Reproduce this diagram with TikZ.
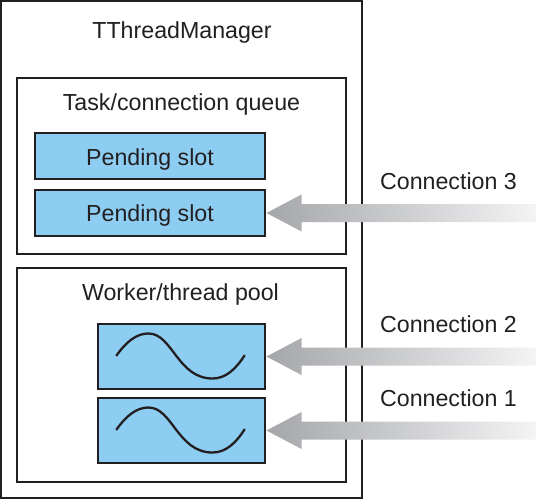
\documentclass[tikz,border=0pt]{standalone}
\usepackage{fontspec}
\setmainfont{Liberation Sans}
\usetikzlibrary{calc}
\definecolor{ink}{HTML}{231F20}
\definecolor{slotblue}{HTML}{8ECDF2}
\definecolor{arrowgray}{HTML}{A4A6A9}
\definecolor{arrowend}{HTML}{F4F4F5}
\tikzset{
  box/.style={draw=ink,line width=1.3pt,fill=white,inner sep=0pt,outer sep=0pt,anchor=north west},
  bluebox/.style={box,fill=slotblue},
  lbl/.style={text=ink,font=\fontsize{23.2}{28}\selectfont,inner sep=0pt,anchor=base},
  wave/.style={draw=ink,line width=2.3pt,line cap=round},
  conn/.style={left color=arrowgray,right color=arrowend,draw=none}
}
\newcommand{\fatarrow}[2]{%
  \coordinate (tip#2) at ($(#1.east)+(1.5,0)$);
  \shade[conn] (tip#2) -- ($(tip#2)+(35,-18.5)$) -- ($(tip#2)+(35,-9)$)
    -- ($(tip#2)+(270,-9)$) -- ($(tip#2)+(270,9)$)
    -- ($(tip#2)+(35,9)$) -- ($(tip#2)+(35,18.5)$) -- cycle;
}
\begin{document}
\begin{tikzpicture}[x=1pt,y=-1pt]
\useasboundingbox (0,0) rectangle (537,499);
\node[box,minimum width=361pt,minimum height=497pt] (outer) at (1,1) {};
\node[box,minimum width=329pt,minimum height=176pt] (queue) at (17,78) {};
\node[box,minimum width=329pt,minimum height=214pt] (pool) at (17,268) {};
\node[bluebox,minimum width=230pt,minimum height=46pt] (slotA) at (35,133) {};
\node[bluebox,minimum width=230pt,minimum height=46pt] (slotB) at (35,190) {};
\node[bluebox,minimum width=167pt,minimum height=65pt] (workerA) at (98,324) {};
\node[bluebox,minimum width=167pt,minimum height=65pt] (workerB) at (98,398) {};
\node[lbl] (title) at (182,38) {TThreadManager};
\node[lbl] (qlabel) at (181.5,110) {Task/connection queue};
\node[lbl] (plabel) at (180.5,300) {Worker/thread pool};
\node[lbl] (sa) at (150,165) {Pending slot};
\node[lbl] (sb) at (150,221) {Pending slot};
\node[lbl] (c3) at (448.5,189) {Connection 3};
\node[lbl] (c2) at (448.5,332) {Connection 2};
\node[lbl] (c1) at (448.5,406) {Connection 1};
\foreach \w in {workerA,workerB}{
  \begin{scope}[shift={(\w.center)}]
    \draw[wave] (-65,-1) .. controls (-55,-15) and (-45,-23) .. (-33,-23)
      .. controls (-9,-23) and (-4,22) .. (31,22)
      .. controls (44,22) and (54,13) .. (63,-1);
  \end{scope}
}
\fatarrow{slotB}{x}
\fatarrow{workerA}{y}
\fatarrow{workerB}{z}
\end{tikzpicture}
\end{document}
